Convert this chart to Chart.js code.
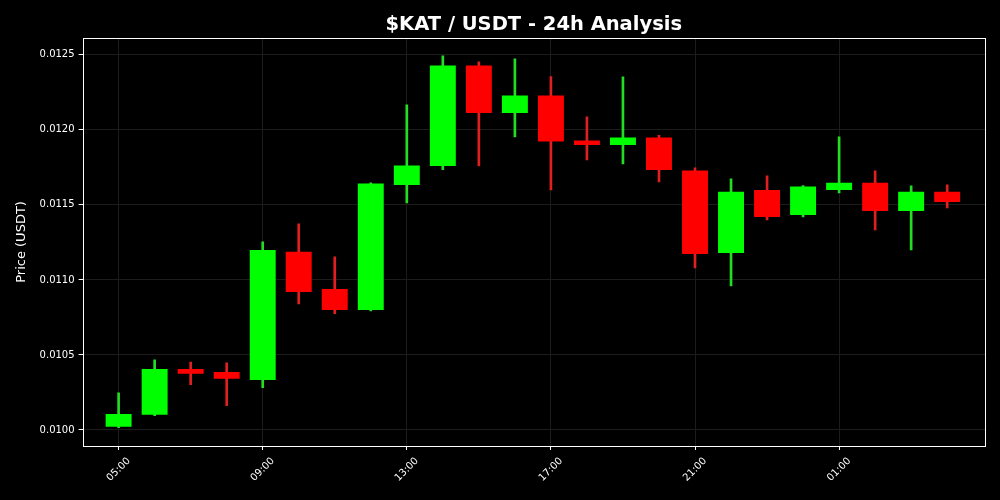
<!DOCTYPE html>
<html>
<head>
<meta charset="utf-8">
<script src="https://cdn.jsdelivr.net/npm/chart.js@4/dist/chart.umd.min.js"></script>
<style>
  html, body { margin: 0; padding: 0; background: #000; }
  #wrap { width: 1000px; height: 500px; }
</style>
</head>
<body>
<div id="wrap"><canvas id="c" width="1000" height="500"></canvas></div>
<script>
// ---- data ----
const hours = ['05:00','06:00','07:00','08:00','09:00','10:00','11:00','12:00','13:00','14:00','15:00','16:00',
               '17:00','18:00','19:00','20:00','21:00','22:00','23:00','00:00','01:00','02:00','03:00','04:00'];
const opens  = [0.010022,0.010102,0.010407,0.010387,0.010333,0.011187,0.010940,0.010800,0.011633,0.011760,0.012429,0.012113,
                0.012229,0.011929,0.011900,0.011949,0.011729,0.011180,0.011600,0.011433,0.011600,0.011647,0.011460,0.011587];
const closes = [0.010107,0.010407,0.010375,0.010342,0.011200,0.010920,0.010800,0.011642,0.011762,0.012429,0.012113,0.012229,
                0.011922,0.011900,0.011949,0.011733,0.011173,0.011587,0.011420,0.011622,0.011647,0.011460,0.011587,0.011520];
const highs  = [0.010247,0.010467,0.010453,0.010447,0.011253,0.011373,0.011153,0.011647,0.012167,0.012493,0.012453,0.012473,
                0.012355,0.012087,0.012353,0.011964,0.011747,0.011673,0.011693,0.011629,0.011953,0.011727,0.011627,0.011633];
const lows   = [0.010015,0.010095,0.010302,0.010162,0.010282,0.010840,0.010775,0.010793,0.011513,0.011735,0.011760,0.011953,
                0.011600,0.011800,0.011773,0.011653,0.011080,0.010960,0.011400,0.011420,0.011580,0.011333,0.011200,0.011480];
const yTicks = [0.0100, 0.0105, 0.0110, 0.0115, 0.0120, 0.0125];
const xTickEvery = 4;

// ---- build ----
const UP = '#00ff00', DOWN = '#ff0000';
const UP_WICK = '#22dd22', DOWN_WICK = '#e02020';
const isUp = opens.map((o, i) => closes[i] >= o);
const bodyColors = isUp.map(u => u ? UP : DOWN);
const wickColors = isUp.map(u => u ? UP_WICK : DOWN_WICK);
const bodies = opens.map((o, i) => ({ x: i, y: [o, closes[i]] }));
const wicks  = lows.map((l, i) => ({ x: i, y: [l, highs[i]] }));
const xTickVals = hours.map((_, i) => i).filter(i => i % xTickEvery === 0);

const frame = {
  id: 'frame',
  afterDatasetsDraw(chart) {
    const a = chart.chartArea, ctx = chart.ctx;
    ctx.save();
    ctx.strokeStyle = '#ffffff';
    ctx.lineWidth = 1;
    ctx.strokeRect(Math.round(a.left) + 0.5, Math.round(a.top) + 0.5,
                   Math.round(a.right - a.left), Math.round(a.bottom - a.top));
    ctx.restore();
  }
};

// x tick labels: rotated 45 deg, centred on the tick (as in the reference)
const xLabels = {
  id: 'xLabels',
  afterDraw(chart) {
    const sx = chart.scales.x, ctx = chart.ctx, a = chart.chartArea;
    ctx.save();
    ctx.fillStyle = '#ffffff';
    ctx.font = '10px "DejaVu Sans"';
    ctx.textAlign = 'center';
    ctx.textBaseline = 'middle';
    sx.ticks.forEach(t => {
      const px = sx.getPixelForValue(t.value);
      ctx.save();
      ctx.translate(px, a.bottom + 23.5);
      ctx.rotate(-Math.PI / 4);
      ctx.fillText(hours[t.value], 0, 0);
      ctx.restore();
    });
    ctx.restore();
  }
};

new Chart(document.getElementById('c'), {
  type: 'bar',
  data: {
    datasets: [
      { label: 'wick', data: wicks, backgroundColor: wickColors, borderWidth: 0,
        barThickness: 2, grouped: false, order: 2 },
      { label: 'body', data: bodies, backgroundColor: bodyColors, borderWidth: 0,
        barPercentage: 0.72, categoryPercentage: 1, grouped: false, order: 1 }
    ]
  },
  plugins: [frame, xLabels],
  options: {
    responsive: false,
    animation: false,
    layout: { padding: { left: 14, right: 15, top: 4, bottom: 50 } },
    plugins: {
      legend: { display: false },
      tooltip: { enabled: false },
      title: {
        display: true,
        fullSize: false,
        text: '$KAT / USDT - 24h Analysis',
        color: '#ffffff',
        font: { family: 'DejaVu Sans', size: 19.5, weight: 'bold' },
        padding: { top: 9, bottom: 1.5 }
      }
    },
    scales: {
      x: {
        type: 'linear',
        min: -1,
        max: 24.05,
        offset: false,
        afterBuildTicks: axis => { axis.ticks = xTickVals.map(v => ({ value: v })); },
        ticks: { display: false },
        grid: { color: '#1c1c1c', lineWidth: 1, tickColor: '#ffffff', tickLength: 4,
                offset: false, drawOnChartArea: true },
        border: { display: false }
      },
      y: {
        min: 0.009893,
        max: 0.012613,
        afterBuildTicks: axis => { axis.ticks = yTicks.map(v => ({ value: v })); },
        ticks: {
          color: '#ffffff',
          font: { family: 'DejaVu Sans', size: 10 },
          padding: 4,
          callback: v => Number(v).toFixed(4)
        },
        title: {
          display: true,
          text: 'Price (USDT)',
          color: '#ffffff',
          font: { family: 'DejaVu Sans', size: 13 },
          padding: { top: 0, bottom: 6 }
        },
        grid: { color: '#1c1c1c', lineWidth: 1, tickColor: '#ffffff', tickLength: 4 },
        border: { display: false }
      }
    }
  }
});
</script>
</body>
</html>
